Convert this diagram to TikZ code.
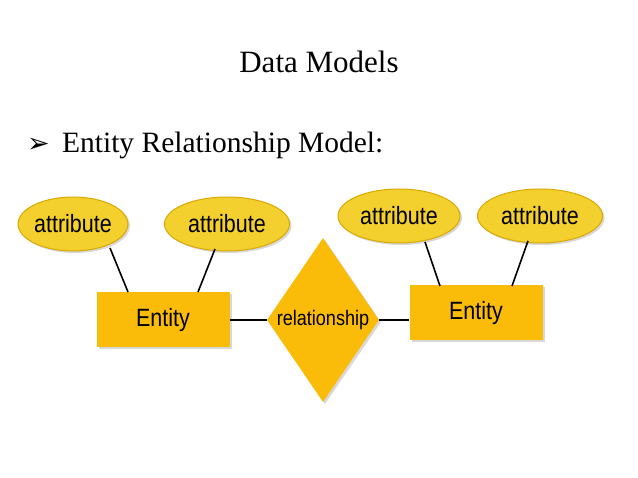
\documentclass[tikz,border=0pt]{standalone}
\usepackage{fontspec}
\setmainfont{Liberation Serif}
\newfontfamily\arial[FakeStretch=0.86]{Liberation Sans}
\usetikzlibrary{shapes.geometric,shadows}
\definecolor{ellfill}{HTML}{F3D02E}
\definecolor{ellline}{HTML}{D9A800}
\definecolor{boxfill}{HTML}{FBBC09}
\tikzset{
  attr/.style={ellipse,fill=ellfill,draw=ellline,line width=1pt,inner sep=0pt,font=\arial\fontsize{25}{27}\selectfont,drop shadow={opacity=0.3,shadow xshift=2pt,shadow yshift=-2pt}},
  ent/.style={rectangle,fill=boxfill,minimum width=133pt,minimum height=55pt,inner sep=0pt,font=\arial\fontsize{25}{27}\selectfont,drop shadow={opacity=0.3,shadow xshift=2pt,shadow yshift=-2pt}},
  rel/.style={diamond,fill=boxfill,minimum width=112pt,minimum height=164pt,inner sep=0pt,aspect=0.68,font=\arial\fontsize{21}{23}\selectfont,drop shadow={opacity=0.3,shadow xshift=2pt,shadow yshift=-2pt}},
  conn/.style={line width=1.6pt,black}
}
\begin{document}
\begin{tikzpicture}[x=1pt,y=-1pt]
\useasboundingbox[fill=white] (0,0) rectangle (638,478);
\node (title) at (319,62) {\fontsize{31}{34}\selectfont Data Models};
\node[anchor=west,inner sep=0pt] (bullet) at (27,145) {\fontsize{29.5}{33}\selectfont{\fontspec{DejaVu Sans}\fontsize{27}{30}\selectfont ➢}\, Entity Relationship Model:};
\node[attr,minimum width=98pt,minimum height=54pt] (a1) at (73,224) {attribute};
\node[attr,minimum width=125pt,minimum height=54pt] (a2) at (227,224) {attribute};
\node[attr,minimum width=122pt,minimum height=54pt] (a3) at (399,216) {attribute};
\node[attr,minimum width=125pt,minimum height=54pt] (a4) at (540,216) {attribute};
\node[ent] (e1) at (163,320) {Entity};
\node[ent] (e2) at (476,313) {Entity};
\node[rel] (r) at (323,320) {\raisebox{-5pt}{relationship}};
\coordinate (p1) at (110,248); \coordinate (q1) at (128,292);
\coordinate (p2) at (215,249); \coordinate (q2) at (198,292);
\coordinate (p3) at (425,242); \coordinate (q3) at (440,286);
\coordinate (p4) at (528,241); \coordinate (q4) at (512,286);
\draw[conn] (p1) -- (q1);
\draw[conn] (p2) -- (q2);
\draw[conn] (p3) -- (q3);
\draw[conn] (p4) -- (q4);
\draw[conn] (e1.east) -- (r.west);
\draw[conn] (r.east) -- (e2.west |- r.east);
\end{tikzpicture}
\end{document}
